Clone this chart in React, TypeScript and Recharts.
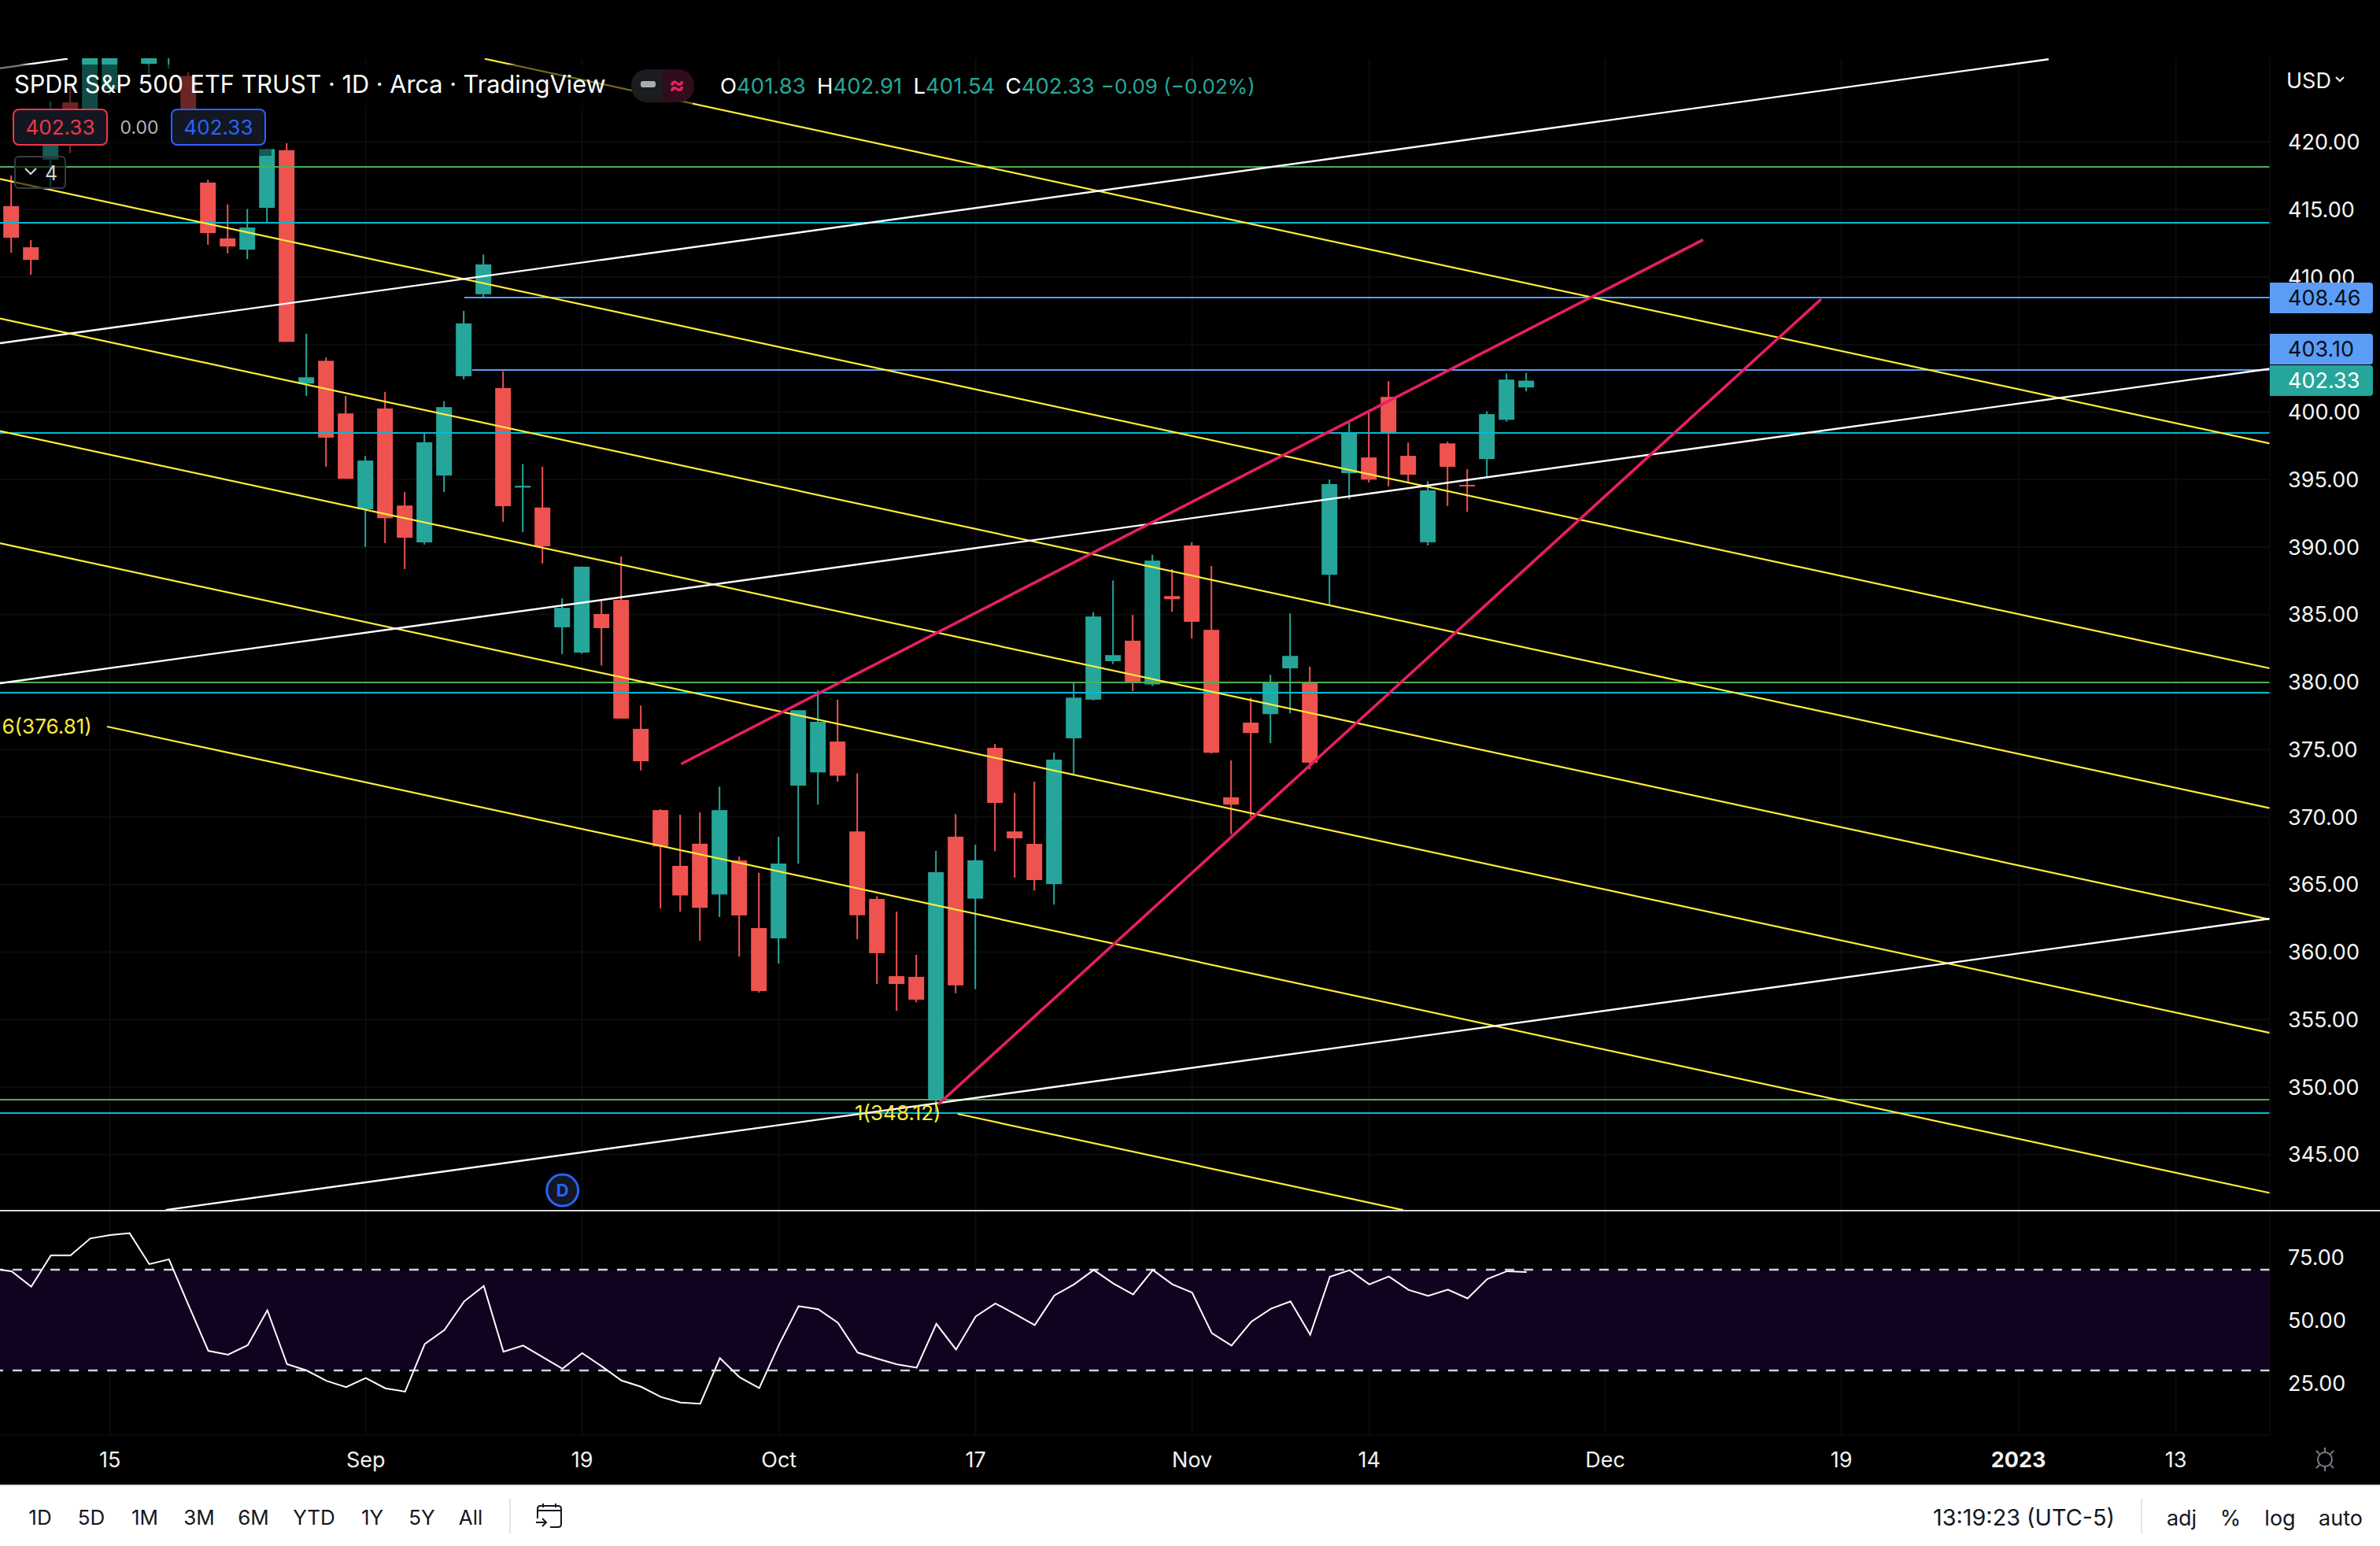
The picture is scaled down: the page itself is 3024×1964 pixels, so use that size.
import React from 'react';
import { ComposedChart, Bar, Line, XAxis, YAxis, ReferenceLine, ReferenceArea, ReferenceDot, CartesianGrid } from 'recharts';

// ---- candle values, one entry per trading day ----
const opens = [415.26,412.21,418.7,422.94,421,423.9,427,425.8,427,424.9,417.0,412.87,412.03,415.13,419.4,402.11,403.8,399.9,392.8,400.27,393.08,390.35,395.3,402.66,408.73,401.78,394.41,392.93,384.06,382.19,385.05,386.09,376.54,370.52,366.39,368.03,364.27,366.79,361.78,361.02,372.33,373.31,375.6,368.94,363.94,358.22,358.17,349.13,368.55,363.96,375.13,368.94,368.02,365.04,375.84,378.7,381.55,383.07,379.83,386.37,390.12,383.87,371.47,377.0,377.63,381.02,379.92,387.95,395.48,396.64,401.13,396.76,390.36,397.68,394.61,396.52,399.43,401.83];
const highs = [417.53,412.74,423,424.2,429,429,429,427.5,428.5,425.2,417.21,415.39,415.05,419.53,419.92,405.81,404.04,401.2,396.75,401.5,394.07,398.52,400.81,407.5,411.67,403.03,396.15,395.95,386.2,388.55,386.09,389.31,378.26,370.58,370.18,370.35,372.27,367.07,365.88,368.54,377.92,379.41,378.7,373.25,364.15,363.0,359.8,367.5,370.22,367.96,375.42,371.79,372.63,374.77,379.95,385.18,387.53,384.97,389.44,388.37,390.36,388.6,374.2,378.85,380.54,385.09,381.14,395.0,399.32,400.06,402.29,397.74,394.88,397.8,395.77,400.06,402.86,402.91];
const lows = [411.8,410.18,416.7,419.2,420.5,423.5,426.5,424.8,425.45,421.6,412.4,411.75,411.33,414.06,405.2,401.2,395.95,395.06,390.01,390.3,388.37,390.19,394.07,402.43,408.49,391.86,391.1,388.79,382.08,382.1,381.23,377.3,373.46,363.23,363.0,360.85,362.6,359.67,357.0,359.15,366.56,370.93,372.63,360.95,357.64,355.66,356.28,348.12,356.96,357.25,367.48,365.52,364.56,363.52,373.07,378.64,381.34,379.32,379.71,385.21,383.22,374.71,368.73,370.01,375.48,377.68,373.55,385.69,393.54,394.79,394.5,394.76,390.12,393.04,392.62,395.12,399.29,401.54];
const closes = [412.92,411.28,421.5,421,428,428,428.5,427,428,422.2,413.26,412.27,413.67,419.48,405.2,402.58,398.11,395.06,396.41,392.14,390.69,397.77,400.37,406.57,410.94,393.03,394.54,390.06,385.5,388.55,384.0,377.3,374.14,367.83,364.2,363.28,370.52,362.72,357.12,366.56,377.92,377.06,373.07,362.73,359.92,357.64,356.48,365.92,357.54,366.8,371.05,368.43,365.34,374.26,378.85,384.86,382.0,379.92,389.0,386.14,384.47,374.77,370.93,376.23,379.95,381.94,374.03,394.67,398.48,395.0,398.42,395.36,394.2,395.95,394.5,399.85,402.41,402.33];
const rsiPrior = 70.4;
const rsiValues = [69.4,63.3,75.7,75.7,82.4,83.75,84.5,72.2,74.1,55.8,37.8,36.25,40,53.9,32.5,30,25.9,23.4,27,22.9,21.6,40.5,46.1,57.4,63.5,37.4,39.9,35.3,30.7,36.9,31.6,26,23.5,19.5,17.3,16.8,34.9,27.3,23,40.2,55.5,54.3,48.9,37.1,34.7,32.4,31.1,48.5,38.3,51.4,56.6,52.4,48,59.8,64.2,69.9,64.5,60.2,69.9,64.2,60.9,44.8,39.9,49.3,54.5,57.4,44.2,67.2,69.8,64.2,67.3,62,59.6,62.1,58.6,66.3,69.4,69.1];

// ---- axis ticks ----
const priceTicks = [420,415,410,400,395,390,385,380,375,370,365,360,355,350,345];
const priceGrid = [420,415,410,405,400,395,390,385,380,375,370,365,360,355,350,345];
const rsiTicks = [75,50,25];
const timeTickIdx = [5,18,29,39,49,60,69,81,93,102,110];
const timeTickLabels = ['15','Sep','19','Oct','17','Nov','14','Dec','19','2023','13'];

// ---- horizontal levels (price, colour) ----
const levelPrices = [418.18,414.03,398.47,380.0,379.22,349.07,348.07];
const levelColors = ['#4caf50','#00bcd4','#00bcd4','#4caf50','#00bcd4','#4caf50','#00bcd4'];
const blueLevels = [[23.01,408.46],[23.4,403.10]];

// ---- drawn trend lines: [fromIdx, fromPrice, toIdx, toPrice] ----
const yellowLines = [
  [24.05,426.17,114.77,397.68],
  [-0.588,417.27,114.77,381.02],
  [-0.588,406.93,114.77,370.67],
  [-0.588,398.6,114.77,362.42],
  [-0.588,390.29,114.77,354.02],
  [4.85,376.71,114.77,342.16],
  [48.08,348.02,70.73,340.9],
];
const whiteLines = [
  [-0.588,405.1,103.53,426.14],
  [-0.588,425.47,2.85,426.17],
  [-0.588,379.91,114.77,403.21],
  [7.83,340.9,114.77,362.48],
];
const pinkLines = [
  [34.03,373.94,85.97,412.76],
  [47.09,348.72,91.97,408.37],
];

const headerTitle = 'SPDR S&P 500 ETF TRUST · 1D · Arca · TradingView';
const ohlcLetters = ['O','H','L','C'];
const ohlcValues = ['401.83','402.91','401.54','402.33'];
const changeText = '−0.09 (−0.02%)';
const rangeButtons = ['1D','5D','1M','3M','6M','YTD','1Y','5Y','All'];

const RED = '#ef5350';
const TEAL = '#26a69a';
const FONT = 'Inter, "Liberation Sans", sans-serif';

const candles = opens.map((o, i) => ({
  idx: i, open: o, high: highs[i], low: lows[i], close: closes[i], range: [lows[i], highs[i]],
}));
const rsiRows = [{ idx: -1, rsi: rsiPrior }, ...rsiValues.map((v, i) => ({ idx: i, rsi: v }))];
const xDomain: [number, number] = [-0.588, 114.772];

function Candle(props: any) {
  const { x, y, width, height, payload } = props;
  const { open, high, low, close } = payload;
  const up = close >= open;
  const color = up ? TEAL : RED;
  const perUnit = height / (high - low);
  const top = y + (high - Math.max(open, close)) * perUnit;
  const bodyH = Math.max(Math.abs(open - close) * perUnit, 2);
  const cx = x + width / 2;
  return (
    <g>
      <rect x={cx - 1} y={y} width={2} height={height} fill={color} />
      <rect x={cx - 10} y={top} width={20} height={bodyH} fill={color} />
    </g>
  );
}

function TimeTick(props: any) {
  const { x, y, payload } = props;
  const i = timeTickIdx.indexOf(payload.value);
  const label = timeTickLabels[i];
  return (
    <text x={x} y={y + 23} dy="0.36em" textAnchor="middle" fill="#f2f2f2" fontFamily={FONT} fontSize={27}
      fontWeight={label === '2023' ? 700 : 400}>{label}</text>
  );
}

function Txt({ x, y, size = 26, color = '#fff', anchor = 'left', weight = 400, children }: any) {
  const tx = anchor === 'center' ? 'translate(-50%,-50%)' : anchor === 'right' ? 'translate(-100%,-50%)' : 'translate(0,-50%)';
  return (
    <div style={{ position: 'absolute', left: x, top: y, transform: tx, fontFamily: FONT, fontSize: size, color, fontWeight: weight, whiteSpace: 'nowrap', lineHeight: 1 }}>{children}</div>
  );
}

function Box({ x, y, w, h, style }: any) {
  return <div style={{ position: 'absolute', left: x, top: y, width: w, height: h, boxSizing: 'border-box', ...style }} />;
}

function PriceTag({ y, h = 39, bg, color, children }: any) {
  return (
    <div style={{ position: 'absolute', left: 2884, top: y, width: 131, height: h, background: bg, borderRadius: '0 4px 4px 0', color, fontFamily: FONT, fontSize: 27, lineHeight: `${h}px`, paddingLeft: 23, boxSizing: 'border-box' }}>{children}</div>
  );
}

const buttonX = [51,116,184,253,322,399,473,536,598];
const ohlcX = [915,1038,1160.5,1277.6];

export default function App() {
  return (
    <div style={{ position: 'fixed', left: 0, top: 0, width: 3024, height: 1964, background: '#000', overflow: 'hidden' }}>
      <div style={{ position: 'absolute', left: 0, top: 74 }}>
        <ComposedChart width={3024} height={1464} data={candles} margin={{ top: 0, right: 0, bottom: 0, left: 0 }}>
          <CartesianGrid stroke="#0c0c0c" strokeWidth={2} verticalValues={timeTickIdx} horizontalValues={priceGrid} />
          <XAxis type="number" dataKey="idx" domain={xDomain} hide allowDataOverflow />
          <YAxis orientation="right" width={140} domain={[340.85, 426.21]} allowDataOverflow ticks={priceTicks} interval={0}
            axisLine={{ stroke: '#111' }} tickLine={false} tickSize={0} tickMargin={23}
            tickFormatter={(v: number) => v.toFixed(2)} tick={{ fill: '#f5f5f5', fontSize: 27, fontFamily: FONT }} />
          {levelPrices.map((p, i) => (
            <ReferenceLine key={'l' + i} y={p} stroke={levelColors[i]} strokeWidth={2} ifOverflow="visible" shapeRendering="crispEdges" />
          ))}
          {blueLevels.map((b, i) => (
            <ReferenceLine key={'b' + i} segment={[{ x: b[0], y: b[1] }, { x: 114.772, y: b[1] }]} stroke="#5b9cf6" strokeWidth={2} ifOverflow="visible" shapeRendering="crispEdges" />
          ))}
          {yellowLines.map((l, i) => (
            <ReferenceLine key={'y' + i} segment={[{ x: l[0], y: l[1] }, { x: l[2], y: l[3] }]} stroke="#ffeb3b" strokeWidth={2.2} ifOverflow="visible" />
          ))}
          {whiteLines.map((l, i) => (
            <ReferenceLine key={'w' + i} segment={[{ x: l[0], y: l[1] }, { x: l[2], y: l[3] }]} stroke="#ffffff" strokeWidth={2.4} ifOverflow="visible" />
          ))}
          {pinkLines.map((l, i) => (
            <ReferenceLine key={'p' + i} segment={[{ x: l[0], y: l[1] }, { x: l[2], y: l[3] }]} stroke="#e91e63" strokeWidth={3.6} ifOverflow="visible" />
          ))}
          <Bar dataKey="range" barSize={20} shape={<Candle />} isAnimationActive={false} />
          <ReferenceDot x={28} y={342.36} r={20} fill="#131722" stroke="#2962ff" strokeWidth={3}
            label={{ value: 'D', position: 'center', fill: '#2962ff', fontSize: 22, fontWeight: 700, fontFamily: FONT }} />
        </ComposedChart>
      </div>

      <div style={{ position: 'absolute', left: 0, top: 1538 }}>
        <ComposedChart width={3024} height={348} data={rsiRows} margin={{ top: 0, right: 0, bottom: 0, left: 0 }}>
          <CartesianGrid stroke="#0c0c0c" strokeWidth={2} verticalValues={timeTickIdx} horizontal={false} />
          <XAxis type="number" dataKey="idx" domain={xDomain} allowDataOverflow ticks={timeTickIdx} interval={0} height={63}
            axisLine={{ stroke: '#111' }} tickLine={false} tick={<TimeTick />} />
          <YAxis orientation="right" width={140} domain={[4.375, 93.44]} allowDataOverflow ticks={rsiTicks} interval={0}
            axisLine={{ stroke: '#111' }} tickLine={false} tickSize={0} tickMargin={23}
            tickFormatter={(v: number) => v.toFixed(2)} tick={{ fill: '#f5f5f5', fontSize: 27, fontFamily: FONT }} />
          <ReferenceArea y1={30} y2={70} fill="#11021f" fillOpacity={1} stroke="none" />
          <ReferenceLine y={70} stroke="#cfd1d6" strokeWidth={2.5} strokeDasharray="12 12" />
          <ReferenceLine y={30} stroke="#cfd1d6" strokeWidth={2.5} strokeDasharray="12 12" />
          <Line dataKey="rsi" stroke="#ffffff" strokeWidth={2} dot={false} activeDot={false} isAnimationActive={false} type="linear" />
        </ComposedChart>
      </div>

      {/* pane divider */}
      <Box x={0} y={1537} w={3024} h={2} style={{ background: '#d9dbe0' }} />

      {/* legend backing */}
      <Box x={0} y={82} w={880} h={56} style={{ background: 'rgba(0,0,0,0.55)' }} />
      <Box x={0} y={138} w={345} h={60} style={{ background: 'rgba(0,0,0,0.45)' }} />
      <Txt x={18} y={107} size={30.7}>{headerTitle}</Txt>
      <Box x={802} y={88} w={40} h={42} style={{ background: '#1a1c20', borderRadius: '20px 0 0 20px' }} />
      <Box x={842} y={88} w={40} h={42} style={{ background: '#300c1c', borderRadius: '0 20px 20px 0' }} />
      <Box x={814} y={103} w={19} h={8} style={{ background: '#a9abb3', borderRadius: 3 }} />
      <Txt x={860} y={107} size={30} color="#e91e63" anchor="center" weight={700}>≈</Txt>
      {ohlcLetters.map((l, i) => (
        <Txt key={l} x={ohlcX[i]} y={110} size={27.5}>{l}<span style={{ color: TEAL }}>{ohlcValues[i]}</span></Txt>
      ))}
      <Txt x={1398.7} y={110} size={26} color={TEAL}>{changeText}</Txt>

      <Box x={16} y={138} w={121} h={47} style={{ background: '#131722', border: '2px solid #f23645', borderRadius: 8 }} />
      <Txt x={76.5} y={162} size={26} color="#f23645" anchor="center">402.33</Txt>
      <Txt x={177} y={162} size={23} color="#b2b5be" anchor="center">0.00</Txt>
      <Box x={217} y={138} w={121} h={47} style={{ background: '#131722', border: '2px solid #2962ff', borderRadius: 8 }} />
      <Txt x={277.5} y={162} size={26} color="#2962ff" anchor="center">402.33</Txt>
      <Box x={18} y={198} w={66} h={42} style={{ background: 'rgba(0,0,0,0.6)', border: '2px solid #363a45', borderRadius: 6 }} />
      <svg style={{ position: 'absolute', left: 30, top: 212 }} width={18} height={12}><path d="M2 2 L9 9 L16 2" stroke="#d1d4dc" strokeWidth={2.2} fill="none" /></svg>
      <Txt x={65} y={220} size={25} color="#d1d4dc" anchor="center">4</Txt>

      {/* fibonacci labels */}
      <Txt x={2.5} y={923} size={26} color="#ffeb3b">6(376.81)</Txt>
      <Txt x={1086} y={1414} size={26} color="#ffeb3b">1(348.12)</Txt>

      {/* right scale */}
      <Txt x={2905} y={102} size={27} color="#f5f5f5">USD</Txt>
      <svg style={{ position: 'absolute', left: 2966, top: 96 }} width={14} height={10}><path d="M2 2 L7 7 L12 2" stroke="#f5f5f5" strokeWidth={2} fill="none" /></svg>
      <PriceTag y={359} bg="#5b9cf6" color="#0b0e14">408.46</PriceTag>
      <PriceTag y={424} bg="#5b9cf6" color="#0b0e14">403.10</PriceTag>
      <PriceTag y={464} bg={TEAL} color="#ffffff">402.33</PriceTag>

      {/* settings */}
      <svg style={{ position: 'absolute', left: 2938, top: 1838 }} width={32} height={32}>
        <circle cx={16} cy={16} r={9} stroke="#7a7d88" strokeWidth={2} fill="none" />
        <path d="M16 1 V7 M16 25 V31 M5 5 L9 9 M27 5 L23 9 M5 27 L9 23 M27 27 L23 23" stroke="#7a7d88" strokeWidth={2} />
      </svg>

      {/* bottom toolbar */}
      <Box x={0} y={1886} w={3024} h={78} style={{ background: '#fff', borderTop: '2px solid #e0e3eb' }} />
      {rangeButtons.map((b, i) => (
        <Txt key={b} x={buttonX[i]} y={1928} size={26} color="#131722" anchor="center">{b}</Txt>
      ))}
      <Box x={647} y={1904} w={2} h={44} style={{ background: '#e0e3eb' }} />
      <svg style={{ position: 'absolute', left: 680, top: 1909 }} width={36} height={33}>
        <path d="M3 20 V8 Q3 4 7 4 H29 Q33 4 33 8 V27 Q33 31 29 31 H19 M3 10 H33 M10 1 V6 M26 1 V6 M1 25 H13 M9 20 L14 25 L9 30" stroke="#131722" strokeWidth={2} fill="none" />
      </svg>
      <Txt x={2456} y={1928} size={28.8} color="#131722">13:19:23 (UTC-5)</Txt>
      <Box x={2720} y={1904} w={2} h={44} style={{ background: '#e0e3eb' }} />
      <Txt x={2772} y={1928} size={27} color="#131722" anchor="center">adj</Txt>
      <Txt x={2834} y={1928} size={27} color="#131722" anchor="center">%</Txt>
      <Txt x={2897} y={1928} size={27} color="#131722" anchor="center">log</Txt>
      <Txt x={2974} y={1928} size={27} color="#131722" anchor="center">auto</Txt>
    </div>
  );
}
